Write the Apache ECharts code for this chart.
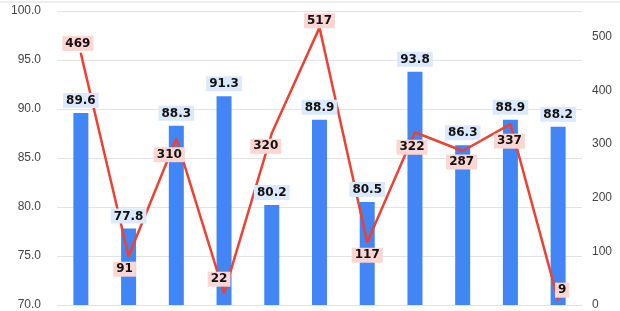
<!DOCTYPE html>
<html><head><meta charset="utf-8">
<script src="https://cdn.jsdelivr.net/npm/echarts@6/dist/echarts.min.js"></script>
<style>html,body{margin:0;padding:0;background:#fff}#c{width:620px;height:311px}</style>
</head><body><div id="c"></div>
<script>
var categories = ['1','2','3','4','5','6','7','8','9','10','11'];
var barValues = [89.6, 77.8, 88.3, 91.3, 80.2, 88.9, 80.5, 93.8, 86.3, 88.9, 88.2];
var lineValues = [469, 91, 310, 22, 320, 517, 117, 322, 287, 337, 9];
// label offsets (style only): [dx, dy] from the point
var lineLabelOffsets = [[-3,-10],[-4,13],[-7,16],[-5,-14],[-6,13],[0,-7],[0,13],[-3,15],[-1,11],[-1,17],[4,-10]];
var leftTicks = {min: 70, max: 100, interval: 5};
var rightTicks = {min: 0, max: 548, interval: 100};

var chart = echarts.init(document.getElementById('c'), null, {renderer: 'canvas'});
var lineData = lineValues.map(function (v, i) {
  return {value: v, label: {position: 'inside', offset: lineLabelOffsets[i]}};
});
var barLabel = {show: true, position: 'top', distance: 5, color: '#111', fontWeight: 'bold', fontSize: 12,
  fontFamily: 'DejaVu Sans', backgroundColor: '#dce8fb', padding: [2, 3, 1, 3],
  formatter: function (p) { return p.value.toFixed(1); }};
chart.setOption({
  animation: false,
  grid: {left: 57, right: 38, top: 11, bottom: 5},
  graphic: [{type: 'line', shape: {x1: 0, y1: 2, x2: 620, y2: 2}, style: {stroke: '#dddddd', lineWidth: 1}}],
  xAxis: {
    type: 'category', data: categories,
    axisLabel: {show: false}, axisTick: {show: false},
    axisLine: {show: false}
  },
  yAxis: [{
    type: 'value', min: leftTicks.min, max: leftTicks.max, interval: leftTicks.interval,
    axisLabel: {formatter: function (v) { return v.toFixed(1); }, color: '#444', fontSize: 12, fontFamily: 'Liberation Sans', margin: 16},
    splitLine: {lineStyle: {color: '#e3e3e3'}},
    axisLine: {show: false}, axisTick: {show: false}
  }, {
    type: 'value', min: rightTicks.min, max: rightTicks.max, interval: rightTicks.interval,
    axisLabel: {color: '#444', fontSize: 12, fontFamily: 'Liberation Sans', margin: 10, showMaxLabel: false},
    splitLine: {show: false}, axisLine: {show: false}, axisTick: {show: false}
  }],
  series: [{
    type: 'bar', data: barValues, yAxisIndex: 0, barWidth: 15, z: 2,
    itemStyle: {color: '#4285f4'},
    label: {show: false}
  }, {
    type: 'bar', data: barValues, yAxisIndex: 0, barWidth: 15, barGap: '-100%', z: 8,
    itemStyle: {color: 'rgba(0,0,0,0)'},
    label: barLabel, silent: true
  }, {
    type: 'line', data: lineData, yAxisIndex: 1, symbol: 'circle', symbolSize: 2, showSymbol: true, z: 5,
    itemStyle: {color: '#ea4335'},
    lineStyle: {color: '#ea4335', width: 2.5},
    label: {show: true, color: '#111', fontWeight: 'bold', fontSize: 12,
      fontFamily: 'DejaVu Sans', backgroundColor: '#fbd6d3', padding: [2, 3, 1, 3]}
  }]
});
</script></body></html>
